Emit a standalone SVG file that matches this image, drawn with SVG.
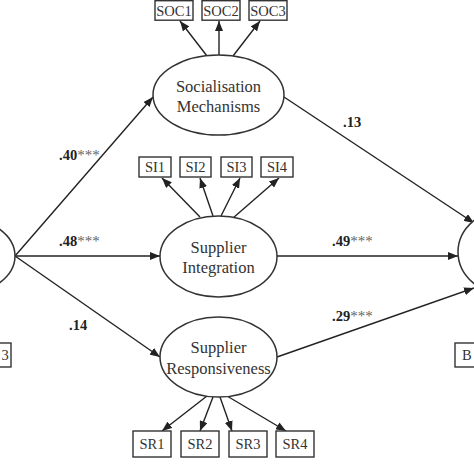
<svg xmlns="http://www.w3.org/2000/svg" width="474" height="474" viewBox="0 0 474 474">
<style>
.box{fill:#fff;stroke:#333;stroke-width:1.4}
.ell{fill:#fff;stroke:#333;stroke-width:1.5}
.t{font-family:"Liberation Serif","Times New Roman",serif;fill:#333;text-anchor:middle}
.bt{font-size:14.5px}
.et{font-size:16.5px}
.lab{font-family:"Liberation Serif","Times New Roman",serif;font-size:14.5px;font-weight:bold;fill:#222}
.st{font-weight:normal;fill:#666;font-size:15px}
.c{stroke:#222;stroke-width:1.4;fill:none;marker-end:url(#ah)}
</style>
<defs>
<marker id="ah" markerUnits="userSpaceOnUse" markerWidth="10" markerHeight="8" refX="10" refY="4" orient="auto">
<path d="M0,0 L10,4 L0,8 z" fill="#222"/>
</marker>
</defs>
<rect width="474" height="474" fill="#fff"/>
<g id="connectors">
<line class="c" x1="207" y1="56" x2="180" y2="21"/>
<line class="c" x1="219" y1="55" x2="219" y2="21"/>
<line class="c" x1="233" y1="56" x2="260" y2="21"/>
<line class="c" x1="200" y1="217" x2="162" y2="178"/>
<line class="c" x1="213" y1="216" x2="200" y2="178"/>
<line class="c" x1="221" y1="216" x2="240" y2="178"/>
<line class="c" x1="233" y1="218" x2="279" y2="178"/>
<line class="c" x1="207" y1="396" x2="162" y2="431"/>
<line class="c" x1="213" y1="397" x2="200" y2="431"/>
<line class="c" x1="220" y1="397" x2="232" y2="431"/>
<line class="c" x1="227" y1="396" x2="286" y2="431"/>
<line class="c" x1="15" y1="256" x2="153" y2="97"/>
<line class="c" x1="15" y1="256" x2="160" y2="256"/>
<line class="c" x1="15" y1="256" x2="160" y2="357"/>
<line class="c" x1="284" y1="97" x2="474" y2="223"/>
<line class="c" x1="277" y1="256" x2="458" y2="256"/>
<line class="c" x1="277" y1="357" x2="474" y2="288"/>
</g>
<g id="labels">
<text class="lab" x="59" y="160">.40<tspan class="st">***</tspan></text>
<text class="lab" x="59" y="246">.48<tspan class="st">***</tspan></text>
<text class="lab" x="69" y="330">.14</text>
<text class="lab" x="343" y="127">.13</text>
<text class="lab" x="332" y="246">.49<tspan class="st">***</tspan></text>
<text class="lab" x="332" y="321">.29<tspan class="st">***</tspan></text>
</g>
<g id="soc1"><rect class="box" x="155" y="0.7" width="38" height="19.5"/><text class="t bt" x="174" y="16">SOC1</text></g>
<g id="soc2"><rect class="box" x="202" y="0.7" width="38" height="19.5"/><text class="t bt" x="221" y="16">SOC2</text></g>
<g id="soc3"><rect class="box" x="249" y="0.7" width="38" height="19.5"/><text class="t bt" x="268" y="16">SOC3</text></g>
<g id="socialisation"><ellipse class="ell" cx="218.5" cy="95" rx="65.5" ry="40"/><text class="t et" x="218.5" y="92">Socialisation</text><text class="t et" x="218.5" y="112">Mechanisms</text></g>
<g id="si1"><rect class="box" x="139" y="157" width="32" height="20"/><text class="t bt" x="155" y="172">SI1</text></g>
<g id="si2"><rect class="box" x="180" y="157" width="31" height="20"/><text class="t bt" x="195.5" y="172">SI2</text></g>
<g id="si3"><rect class="box" x="221" y="157" width="31" height="20"/><text class="t bt" x="236.5" y="172">SI3</text></g>
<g id="si4"><rect class="box" x="261" y="157" width="32" height="20"/><text class="t bt" x="277" y="172">SI4</text></g>
<g id="integration"><ellipse class="ell" cx="218.5" cy="256.5" rx="58.5" ry="40.5"/><text class="t et" x="218.5" y="253">Supplier</text><text class="t et" x="218.5" y="273">Integration</text></g>
<g id="responsiveness"><ellipse class="ell" cx="218.5" cy="357" rx="58.5" ry="40"/><text class="t et" x="218.5" y="353">Supplier</text><text class="t et" x="218.5" y="374">Responsiveness</text></g>
<g id="sr1"><rect class="box" x="133" y="431" width="38" height="26"/><text class="t bt" x="152" y="449">SR1</text></g>
<g id="sr2"><rect class="box" x="181" y="431" width="38" height="26"/><text class="t bt" x="200" y="449">SR2</text></g>
<g id="sr3"><rect class="box" x="229" y="431" width="38" height="26"/><text class="t bt" x="248" y="449">SR3</text></g>
<g id="sr4"><rect class="box" x="276" y="431" width="38" height="26"/><text class="t bt" x="295" y="449">SR4</text></g>
<g id="left-latent"><ellipse class="ell" cx="-45" cy="256" rx="60" ry="40"/></g>
<g id="right-latent"><ellipse class="ell" cx="508" cy="252" rx="50" ry="43"/></g>
<g id="left-box"><rect class="box" x="-30" y="343" width="41" height="24"/><text class="t bt" x="5" y="360">3</text></g>
<g id="right-box"><rect class="box" x="455" y="343" width="40" height="24"/><text class="t bt" x="462" y="360" style="text-anchor:start">B</text></g>
</svg>
